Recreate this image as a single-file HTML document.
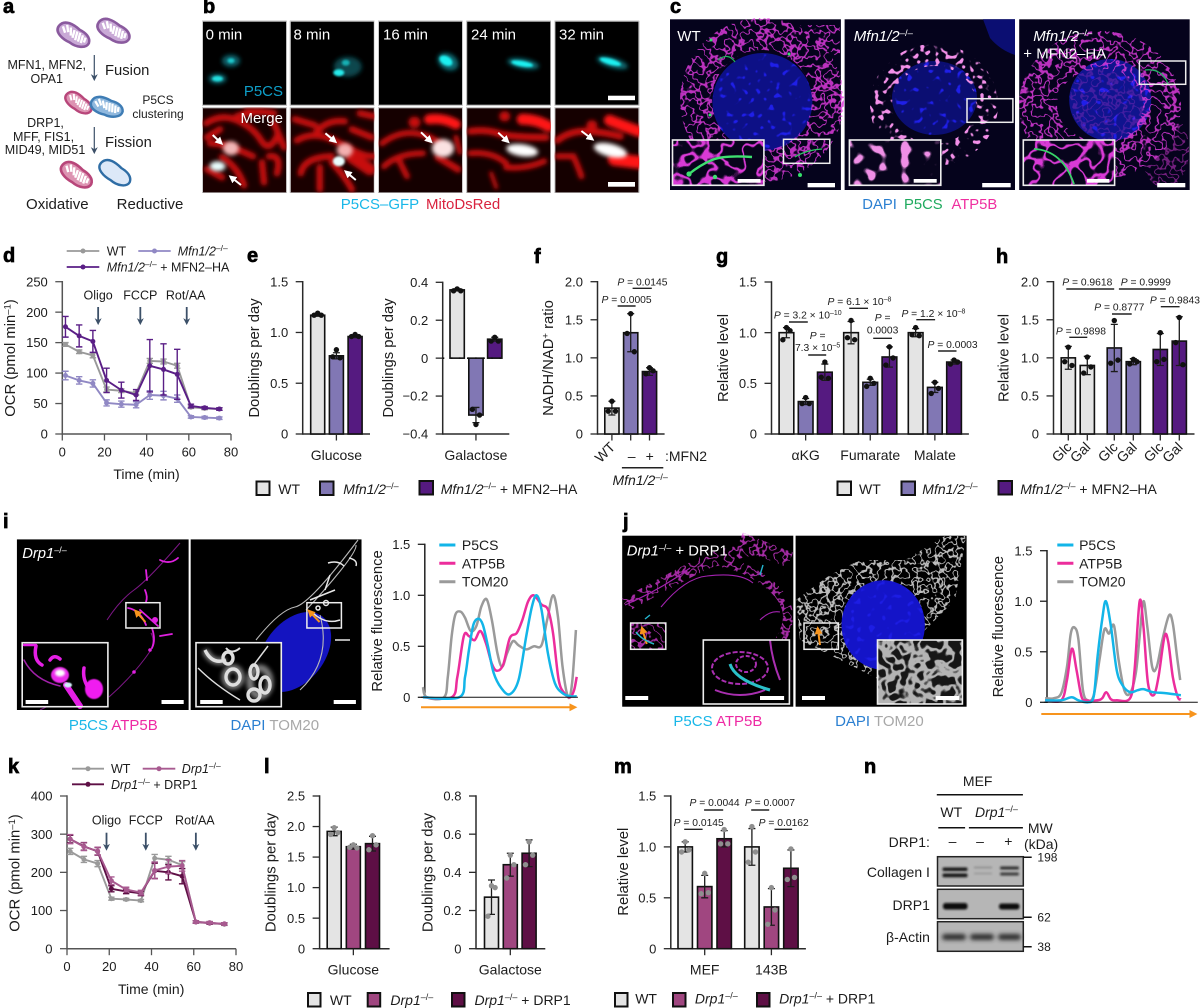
<!DOCTYPE html>
<html lang="en">
<head>
<meta charset="utf-8">
<title>Mitochondrial dynamics and P5CS clustering figure</title>
<style>
html,body{margin:0;padding:0;background:#fff}
svg{display:block}
text{font-family:"Liberation Sans",Arial,sans-serif;fill:#1c1c1c;font-size:12.5px}
.lab{font-size:20px;font-weight:bold;fill:#000;stroke:#000;stroke-width:.7px}
.t15{font-size:15px}.t14{font-size:14px}.t145{font-size:14.8px}.t125{font-size:12.5px}.t12{font-size:12px}
.p{font-size:10.3px}
.it{font-style:italic}
.w{fill:#fff}
.m{text-anchor:middle}
.e{text-anchor:end}
.br{stroke:#222;stroke-width:1.4;fill:none}
</style>
</head>
<body>
<svg id="figure" xmlns="http://www.w3.org/2000/svg" width="1200" height="1008" viewBox="0 0 1200 1008">
<defs>
<filter id="b05" filterUnits="userSpaceOnUse" x="-100" y="-100" width="1400" height="1200"><feGaussianBlur stdDeviation=".5"/></filter>
<filter id="b1" filterUnits="userSpaceOnUse" x="-100" y="-100" width="1400" height="1200"><feGaussianBlur stdDeviation="1"/></filter>
<filter id="b2" filterUnits="userSpaceOnUse" x="-100" y="-100" width="1400" height="1200"><feGaussianBlur stdDeviation="2"/></filter>
<filter id="b4" filterUnits="userSpaceOnUse" x="-100" y="-100" width="1400" height="1200"><feGaussianBlur stdDeviation="4"/></filter>
<filter id="fil-mag" filterUnits="userSpaceOnUse" x="600" y="0" width="600" height="800" color-interpolation-filters="sRGB">
<feTurbulence type="fractalNoise" baseFrequency="0.12" numOctaves="2" seed="7" result="n"/>
<feColorMatrix in="n" type="matrix" values="0 0 0 0 0 0 0 0 0 0 0 0 0 0 0 1 0 0 0 0"/>
<feComponentTransfer result="a"><feFuncA type="table" tableValues="0 0 0 0 0 0 0 0 0 0 0 0 0 0 0 0 0 0 .3 1 1 1 .3 0 0 0 0 0 0 0 0 0 0 0 0 0 0 0 0 0 0"/></feComponentTransfer>
<feFlood flood-color="#dd3bdc"/><feComposite in2="a" operator="in" result="c"/>
<feComposite in="c" in2="SourceAlpha" operator="in"/>
</filter>
<filter id="fil-mag-lg" filterUnits="userSpaceOnUse" x="600" y="0" width="600" height="800" color-interpolation-filters="sRGB">
<feTurbulence type="fractalNoise" baseFrequency="0.055" numOctaves="2" seed="11" result="n"/>
<feColorMatrix in="n" type="matrix" values="0 0 0 0 0 0 0 0 0 0 0 0 0 0 0 1 0 0 0 0"/>
<feComponentTransfer result="a"><feFuncA type="table" tableValues="0 0 0 0 0 0 0 0 0 0 0 0 0 0 0 0 0 0 .3 1 1 1 .3 0 0 0 0 0 0 0 0 0 0 0 0 0 0 0 0 0 0"/></feComponentTransfer>
<feFlood flood-color="#d93ad6"/><feComposite in2="a" operator="in" result="c"/>
<feComposite in="c" in2="SourceAlpha" operator="in"/>
</filter>
<filter id="fil-spots" filterUnits="userSpaceOnUse" x="600" y="0" width="600" height="800" color-interpolation-filters="sRGB">
<feTurbulence type="fractalNoise" baseFrequency="0.2" numOctaves="1" seed="5" result="n"/>
<feColorMatrix in="n" type="matrix" values="0 0 0 0 0 0 0 0 0 0 0 0 0 0 0 1 0 0 0 0"/>
<feComponentTransfer result="a"><feFuncA type="table" tableValues="0 0 0 0 0 0 0 0 0 0 0 0 .3 1 1 1 1 1 1 1 1"/></feComponentTransfer>
<feFlood flood-color="#f28fe8"/><feComposite in2="a" operator="in" result="c"/>
<feComposite in="c" in2="SourceAlpha" operator="in"/>
</filter>
<filter id="fil-spots-lg" filterUnits="userSpaceOnUse" x="600" y="0" width="600" height="800" color-interpolation-filters="sRGB">
<feTurbulence type="fractalNoise" baseFrequency="0.09" numOctaves="1" seed="9" result="n"/>
<feColorMatrix in="n" type="matrix" values="0 0 0 0 0 0 0 0 0 0 0 0 0 0 0 1 0 0 0 0"/>
<feComponentTransfer result="a"><feFuncA type="table" tableValues="0 0 0 0 0 0 0 0 0 0 0 0 .3 1 1 1 1 1 1 1 1"/></feComponentTransfer>
<feFlood flood-color="#ef8fe6"/><feComposite in2="a" operator="in" result="c"/>
<feComposite in="c" in2="SourceAlpha" operator="in"/>
</filter>
<filter id="fil-grey" filterUnits="userSpaceOnUse" x="600" y="500" width="600" height="300" color-interpolation-filters="sRGB">
<feTurbulence type="fractalNoise" baseFrequency="0.14" numOctaves="2" seed="3" result="n"/>
<feColorMatrix in="n" type="matrix" values="0 0 0 0 0 0 0 0 0 0 0 0 0 0 0 1 0 0 0 0"/>
<feComponentTransfer result="a"><feFuncA type="table" tableValues="0 0 0 0 0 0 0 0 0 0 0 0 0 0 0 0 0 0 .4 1 1 1 .4 0 0 0 0 0 0 0 0 0 0 0 0 0 0 0 0 0 0"/></feComponentTransfer>
<feFlood flood-color="#bdbdbd"/><feComposite in2="a" operator="in" result="c"/>
<feComposite in="c" in2="SourceAlpha" operator="in"/>
</filter>
<filter id="fil-grey-lg" filterUnits="userSpaceOnUse" x="600" y="500" width="600" height="300" color-interpolation-filters="sRGB">
<feTurbulence type="fractalNoise" baseFrequency="0.08" numOctaves="2" seed="4" result="n"/>
<feColorMatrix in="n" type="matrix" values="0 0 0 0 0 0 0 0 0 0 0 0 0 0 0 1 0 0 0 0"/>
<feComponentTransfer result="a"><feFuncA type="table" tableValues="0 0 0 0 0 0 0 0 0 0 0 0 0 0 0 0 .2 .6 1 1 1 1 1 .6 .2 0 0 0 0 0 0 0 0 0 0 0 0 0 0 0 0"/></feComponentTransfer>
<feFlood flood-color="#b4b4b4"/><feComposite in2="a" operator="in" result="c"/>
<feComposite in="c" in2="SourceAlpha" operator="in"/>
</filter>
<filter id="nuc" filterUnits="userSpaceOnUse" x="0" y="0" width="1200" height="800" color-interpolation-filters="sRGB">
<feTurbulence type="fractalNoise" baseFrequency="0.16" numOctaves="1" seed="2" result="n"/>
<feColorMatrix in="n" type="matrix" values="0 0 0 0 0 0 0 0 0 0 0 0 0 0 0 1 0 0 0 0"/>
<feComponentTransfer result="a"><feFuncA type="table" tableValues="0 0 0 0 0 0 0 0 0 0 0 0 0 .3 1 1 1 1 1 1 1"/></feComponentTransfer>
<feFlood flood-color="#1f1fe8"/><feComposite in2="a" operator="in" result="c"/>
<feComposite in="c" in2="SourceAlpha" operator="in"/>
</filter>
<marker id="ah-slate" viewBox="0 0 10 10" refX="7" refY="5" markerWidth="7" markerHeight="8" markerUnits="userSpaceOnUse" orient="auto"><path d="M0 0L10 5L0 10L3 5Z" fill="#3c5068"/></marker>
<marker id="ah-white" viewBox="0 0 10 10" refX="7" refY="5" markerWidth="8" markerHeight="8" markerUnits="userSpaceOnUse" orient="auto"><path d="M0 0L10 5L0 10Z" fill="#fff"/></marker>
<marker id="ah-orange" viewBox="0 0 10 10" refX="7" refY="5" markerWidth="8" markerHeight="8" markerUnits="userSpaceOnUse" orient="auto"><path d="M0 0L10 5L0 10Z" fill="#f7941d"/></marker>
<g id="bean"><path d="M-16 -6C-11 -14 -1 -9 5 -5C11 -3 17 1 16 7C14 13 4 13 -3 9C-10 7 -20 1 -16 -6Z"/></g>
<path id="ladder" d="M-12 -6L-9 0M-8 -8L-6 -1M-4 -6L-3 2M0 -4L-1 4M3 -3L2 6M6 -2L5 7M9 0L8 8M12 2L11 7" fill="none" stroke="#fff" stroke-width="2.4"/>
</defs>

<!-- panel labels -->
<g>
<text class="lab" x="3" y="13">a</text>
<text class="lab" x="203" y="13">b</text>
<text class="lab" x="670" y="13">c</text>
<text class="lab" x="3" y="262">d</text>
<text class="lab" x="247" y="262">e</text>
<text class="lab" x="534" y="263">f</text>
<text class="lab" x="716" y="263">g</text>
<text class="lab" x="996" y="263">h</text>
<text class="lab" x="3" y="528">i</text>
<text class="lab" x="623" y="528">j</text>
<text class="lab" x="8" y="773">k</text>
<text class="lab" x="264" y="773">l</text>
<text class="lab" x="614" y="773">m</text>
<text class="lab" x="864" y="773">n</text>
</g>

<!-- panel a -->
<g>
<g transform="translate(74,34) rotate(8)"><use href="#bean" fill="#c9a9d6" stroke="#8a5a9e" stroke-width="2.6"/><use href="#ladder"/></g>
<g transform="translate(114,30) rotate(6)"><use href="#bean" fill="#c9a9d6" stroke="#8a5a9e" stroke-width="2.6"/><use href="#ladder"/></g>
<text class="t125 m" x="46.7" y="69">MFN1, MFN2,</text>
<text class="t125 m" x="46.7" y="83">OPA1</text>
<path d="M94.3 55V79" stroke="#3c5068" stroke-width="1.2" marker-end="url(#ah-slate)"/>
<text class="t145" x="105" y="75">Fusion</text>
<g transform="translate(79,102) rotate(12) scale(.85)"><use href="#bean" fill="#dd93b2" stroke="#b8467a" stroke-width="2.8"/><use href="#ladder"/></g>
<g transform="translate(107,106) rotate(-4) scale(.95)"><use href="#bean" fill="#8fb8de" stroke="#3f7db5" stroke-width="2.6"/><use href="#ladder"/></g>
<text class="t12 m" x="158" y="104">P5CS</text>
<text class="t12 m" x="158" y="118">clustering</text>
<text class="t125 m" x="45.5" y="127">DRP1,</text>
<text class="t125 m" x="43.5" y="141">MFF, FIS1,</text>
<text class="t125 m" x="45" y="154">MID49, MID51</text>
<path d="M94.3 127V152" stroke="#3c5068" stroke-width="1.2" marker-end="url(#ah-slate)"/>
<text class="t145" x="105" y="147">Fission</text>
<g transform="translate(77,174) rotate(12)"><use href="#bean" fill="#dd93b2" stroke="#b8467a" stroke-width="2.6"/><use href="#ladder"/></g>
<g transform="translate(115.5,172) rotate(12)"><use href="#bean" fill="#dce8f8" stroke="#2f6da5" stroke-width="2.4"/></g>
<text class="t15 m" x="57.3" y="209">Oxidative</text>
<text class="t15 m" x="150" y="209">Reductive</text>
</g>

<!-- panel b -->
<g>
<svg x="202" y="20.7" width="84.7" height="85"><rect width="85" height="85" fill="#000" stroke="#ccc" stroke-width="2"/><ellipse cx="29" cy="40" rx="9" ry="6" fill="#0a5f68" filter="url(#b2)"/><ellipse cx="15.5" cy="58" rx="9" ry="5" fill="#0a5f68" filter="url(#b2)"/><ellipse cx="29" cy="40" rx="3.500" ry="2.500" fill="#1cc8cc" filter="url(#b1)"/><ellipse cx="15.5" cy="58" rx="5.500" ry="2.800" fill="#22e0e0" filter="url(#b1)"/></svg>
<svg x="289.8" y="20.7" width="84.7" height="85"><rect width="85" height="85" fill="#000" stroke="#ccc" stroke-width="2"/><ellipse cx="58" cy="46" rx="14" ry="10" fill="#07474e" filter="url(#b2)"/><ellipse cx="56" cy="42" rx="4" ry="3" fill="#18b0b4" filter="url(#b1)"/><ellipse cx="49" cy="52" rx="5.500" ry="3.500" fill="#25eaea" filter="url(#b1)"/></svg>
<svg x="378" y="20.7" width="84.6" height="85"><rect width="85" height="85" fill="#000" stroke="#ccc" stroke-width="2"/><ellipse cx="70" cy="41" rx="11" ry="8" fill="#0a6a72" filter="url(#b2)" transform="rotate(30 70 41)"/><ellipse cx="68" cy="40" rx="7" ry="4.500" fill="#1ff0f0" filter="url(#b1)" transform="rotate(30 68 40)"/></svg>
<svg x="466.2" y="20.7" width="84.6" height="85"><rect width="85" height="85" fill="#000" stroke="#ccc" stroke-width="2"/><ellipse cx="57" cy="43" rx="16" ry="5" fill="#0a6a72" filter="url(#b2)" transform="rotate(10 57 43)"/><ellipse cx="56" cy="43" rx="11" ry="2.800" fill="#1ff0f0" filter="url(#b1)" transform="rotate(10 56 43)"/></svg>
<svg x="554.4" y="20.7" width="84.8" height="85"><rect width="85" height="85" fill="#000" stroke="#ccc" stroke-width="2"/><ellipse cx="58" cy="42" rx="16" ry="5" fill="#0a6a72" filter="url(#b2)" transform="rotate(16 58 42)"/><ellipse cx="56" cy="41" rx="11" ry="3" fill="#1ff0f0" filter="url(#b1)" transform="rotate(16 56 41)"/></svg>

<svg x="202" y="107.3" width="84.7" height="85.4"><rect width="85" height="86" fill="#1a0000" stroke="#ccc" stroke-width="2"/><g fill="none" stroke="#c81010" stroke-width="6.500" stroke-linecap="round" filter="url(#b2)"><path d="M4 16Q19 6 35 13T59 33T75 29"/><path d="M8 36Q23 36 51 49"/><path d="M67 49Q80 47 75 66"/><path d="M35 9Q55 2 72 6"/><path d="M20 50Q36 60 42 78"/><path d="M44 3H60" stroke-width="4"/><path d="M5 62L20 70"/><path d="M60 55L62 75"/><path d="M5 30L18 22"/><path d="M72 16L82 40"/></g><ellipse cx="29" cy="41" rx="8" ry="7" fill="#f0b8b8" filter="url(#b2)"/><ellipse cx="15.5" cy="59" rx="8" ry="5" fill="#eaffff" filter="url(#b2)"/><path d="M10.700 27.700L19.400 36" stroke="#fff" stroke-width="2" marker-end="url(#ah-white)"/><path d="M39 77.700L28.500 69.400" stroke="#fff" stroke-width="2" marker-end="url(#ah-white)"/></svg>
<svg x="289.8" y="107.3" width="84.7" height="85.4"><rect width="85" height="86" fill="#1a0000" stroke="#ccc" stroke-width="2"/><g fill="none" stroke="#c81010" stroke-width="6.500" stroke-linecap="round" filter="url(#b2)"><path d="M7 33Q26 22 50 36T84 49"/><path d="M11 66Q14 50 42 49"/><path d="M70 6L84 9"/><path d="M62 50L80 62" stroke-width="12"/><path d="M26 26Q36 12 55 14"/><path d="M42 55Q56 70 62 82"/><path d="M5 12L25 18"/><path d="M30 60L30 82"/><path d="M62 22L82 30"/></g><ellipse cx="55" cy="43" rx="8" ry="7" fill="#f4b0b0" filter="url(#b2)"/><ellipse cx="49" cy="54" rx="6" ry="5" fill="#eaffff" filter="url(#b1)"/><path d="M35.600 26L45.500 34.400" stroke="#fff" stroke-width="2" marker-end="url(#ah-white)"/><path d="M66 72.700L56 64.400" stroke="#fff" stroke-width="2" marker-end="url(#ah-white)"/></svg>
<svg x="378" y="107.3" width="84.6" height="85.4"><rect width="85" height="86" fill="#150000" stroke="#ccc" stroke-width="2"/><g fill="none" stroke="#c81010" stroke-linecap="round" filter="url(#b2)"><path d="M51 12Q65 10 78 17" stroke="#ff1414" stroke-width="10"/><path d="M36 15H37" stroke-width="11"/><path d="M4 36Q20 24 37 26T65 39" stroke-width="6"/><path d="M6 59Q20 46 45 46" stroke-width="6"/><path d="M21 53L29 69" stroke-width="6"/><path d="M60 50L80 62" stroke-width="7"/><path d="M78 30L82 45" stroke-width="5"/></g><ellipse cx="65" cy="41" rx="11" ry="9" fill="#fbe2e2" filter="url(#b2)"/><path d="M43 25.000L53 34.400" stroke="#fff" stroke-width="2" marker-end="url(#ah-white)"/></svg>
<svg x="466.2" y="107.3" width="84.6" height="85.4"><rect width="85" height="86" fill="#150000" stroke="#ccc" stroke-width="2"/><g fill="none" stroke="#c81010" stroke-linecap="round" filter="url(#b2)"><path d="M56 12Q70 12 82 19" stroke="#ff1414" stroke-width="11"/><path d="M38 9H39" stroke-width="10"/><path d="M4 24Q20 22 32 26T80 30" stroke-width="7"/><path d="M4 46Q26 44 40 56" stroke-width="6"/><path d="M40 60Q60 62 78 54" stroke-width="6"/><path d="M25 66L30 80" stroke-width="4"/></g><ellipse cx="56" cy="43" rx="16" ry="6" fill="#fff" filter="url(#b2)" transform="rotate(8 56 43)"/><path d="M32 25.400L41.800 34.400" stroke="#fff" stroke-width="2" marker-end="url(#ah-white)"/></svg>
<svg x="554.4" y="107.3" width="84.8" height="85.4"><rect width="85" height="86" fill="#150000" stroke="#ccc" stroke-width="2"/><g fill="none" stroke="#c81010" stroke-linecap="round" filter="url(#b2)"><path d="M55 13L84 24" stroke="#ff1414" stroke-width="11"/><path d="M60 52L84 55" stroke="#ff1414" stroke-width="13"/><path d="M37 18H38" stroke-width="10"/><path d="M3 33Q15 24 30 24T66 29" stroke-width="7"/><path d="M3 49H19Q24 60 27 69" stroke-width="6"/></g><ellipse cx="56" cy="43" rx="17" ry="6.500" fill="#fff" filter="url(#b2)" transform="rotate(14 56 43)"/><path d="M27 23.700L38 32" stroke="#fff" stroke-width="2" marker-end="url(#ah-white)"/></svg>

<text class="t15" x="205.600" y="39.500" style="fill:#fff">0 min</text>
<text class="t15" x="293.500" y="39.500" style="fill:#fff">8 min</text>
<text class="t15" x="383" y="39.500" style="fill:#fff">16 min</text>
<text class="t15" x="471" y="39.500" style="fill:#fff">24 min</text>
<text class="t15" x="559" y="39.500" style="fill:#fff">32 min</text>
<text class="t15 e" x="283" y="96" style="fill:#0e9fc9">P5CS</text>
<text class="t15 e" x="283" y="123" style="fill:#fff">Merge</text>
<rect x="608" y="95.700" width="27" height="4.500" fill="#fff"/>
<rect x="608" y="182" width="27" height="4.700" fill="#fff"/>
<text class="t15" x="340.800" y="209" style="fill:#19b7e8">P5CS–GFP</text>
<text class="t15" x="426" y="209" style="fill:#d9233f">MitoDsRed</text>
</g>

<!-- panel c -->
<g>
<rect x="670" y="19.300" width="170.900" height="170.700" fill="#05031c"/>
<rect x="844.600" y="19.300" width="170.400" height="170.700" fill="#05031c"/>
<rect x="1019.200" y="19.300" width="170.500" height="170.700" fill="#05031c"/>
<g>
<ellipse cx="762.400" cy="102" rx="50" ry="49" fill="#0d1086"/>
<ellipse cx="934.500" cy="98" rx="42.500" ry="37" fill="#0b0e72"/>
<ellipse cx="1110.200" cy="100" rx="41" ry="41" fill="#10148e"/>
<path d="M983 19.300H1015V55Q1000 50 990 38Z" fill="#0b0e72"/>
<g filter="url(#nuc)"><ellipse cx="762.400" cy="102" rx="50" ry="49"/><ellipse cx="934.500" cy="98" rx="42.500" ry="37"/><ellipse cx="1110.200" cy="100" rx="41" ry="41"/></g>
</g>
<g filter="url(#fil-mag)" opacity=".85"><ellipse cx="762" cy="100" rx="66" ry="66" fill="none" stroke="#fff" stroke-width="32"/><path d="M800 25H840V60Z"/></g>
<g filter="url(#fil-spots)"><ellipse cx="934" cy="105" rx="53" ry="50" fill="none" stroke="#fff" stroke-width="22"/></g>
<g filter="url(#fil-mag)" opacity=".85"><ellipse cx="1100" cy="105" rx="62" ry="55" fill="none" stroke="#fff" stroke-width="38"/><ellipse cx="1165" cy="150" rx="24" ry="38" opacity=".6"/><ellipse cx="1110" cy="100" rx="40" ry="40" opacity=".3"/></g>
<path d="M718 60Q728 52 735 62" stroke="#1fb35a" stroke-width="1.200" fill="none"/>
<g fill="#35e06a"><circle cx="711" cy="40" r="1.500"/><circle cx="789" cy="54" r="1.500"/><circle cx="710" cy="115" r="1.500"/><circle cx="800" cy="175" r="2"/></g>
<path d="M1145 70Q1162 68 1168 84" stroke="#22b860" stroke-width="1.200" fill="none"/>

<rect x="672.500" y="140" width="91.400" height="45.300" fill="#07041c"/>
<rect x="672.500" y="140" width="91.400" height="45.300" filter="url(#fil-mag-lg)"/>
<path d="M689 174Q700 165 712 160T752 157" stroke="#3ee070" stroke-width="2.400" fill="none"/>
<circle cx="689" cy="174" r="2.600" fill="#3ee070"/><circle cx="715" cy="177" r="2.200" fill="#3ee070"/>
<rect x="672.500" y="140" width="91.400" height="45.300" fill="none" stroke="#eee" stroke-width="1.600"/>
<rect x="849.400" y="140" width="91.400" height="45.300" fill="#07041c"/>
<rect x="849.400" y="140" width="91.400" height="45.300" filter="url(#fil-spots-lg)"/>
<rect x="849.400" y="140" width="91.400" height="45.300" fill="none" stroke="#eee" stroke-width="1.600"/>
<rect x="1023.300" y="140" width="91.300" height="45.300" fill="#07041c"/>
<rect x="1023.300" y="140" width="91.300" height="45.300" filter="url(#fil-mag-lg)"/>
<path d="M1034 149Q1062 150 1074 184" stroke="#37d468" stroke-width="1.800" fill="none"/>
<rect x="1023.300" y="140" width="91.300" height="45.300" fill="none" stroke="#eee" stroke-width="1.600"/>

<g fill="none" stroke="#eee" stroke-width="1.500"><rect x="783.500" y="139.300" width="46.300" height="24"/><rect x="967" y="98.700" width="45.900" height="23.600"/><rect x="1139.400" y="61" width="46.300" height="23.300"/></g>
<path d="M795 157Q806 150 822 149" stroke="#2fc864" stroke-width="1.300" fill="none"/>
<g fill="#fff"><rect x="807.600" y="183" width="27.400" height="4.300"/><rect x="737.600" y="179" width="23" height="3.700"/><rect x="982.200" y="183" width="28.500" height="4.300"/><rect x="913.700" y="179" width="23" height="3.700"/><rect x="1157.200" y="183" width="28.100" height="4.300"/><rect x="1086.900" y="179" width="22.500" height="3.700"/></g>
<text class="t15" x="677.300" y="41" style="fill:#fff">WT</text>
<text class="t15" x="853.800" y="41" style="fill:#fff"><tspan class="it" style="fill:#fff">Mfn1/2</tspan><tspan dy="-5" font-size="9.500" style="fill:#fff">–/–</tspan></text>
<text class="t15" x="1033.200" y="41" style="fill:#fff"><tspan class="it" style="fill:#fff">Mfn1/2</tspan><tspan dy="-5" font-size="9.500" style="fill:#fff">–/–</tspan></text>
<text class="t15" x="1023.300" y="58.700" style="fill:#fff">+ MFN2–HA</text>
<text class="t145" x="862.300" y="209" style="fill:#2a7fd1">DAPI</text>
<text class="t145" x="904" y="209" style="fill:#1faa5e">P5CS</text>
<text class="t145" x="951.500" y="209" style="fill:#ef2fa0">ATP5B</text>
</g>

<!-- charts d-h static annotation -->
<g>
<path d="M66.700 251H99.300" stroke="#999" stroke-width="1.800"/><circle cx="83" cy="251" r="2.500" fill="#999"/>
<text class="t125" x="106.700" y="255.500">WT</text>
<path d="M138.300 251H170.700" stroke="#9088c4" stroke-width="1.800"/><circle cx="154.500" cy="251" r="2.500" fill="#9088c4"/>
<text class="t125" x="177.700" y="255.500"><tspan class="it">Mfn1/2</tspan><tspan dy="-4.500" font-size="8.500">–/–</tspan></text>
<path d="M66.700 267H99.300" stroke="#5a1e86" stroke-width="1.800"/><circle cx="83" cy="267" r="2.500" fill="#5a1e86"/>
<text class="t125" x="106.700" y="271.500"><tspan class="it">Mfn1/2</tspan><tspan dy="-4.500" font-size="8.500">–/–</tspan><tspan dy="4.500"> + MFN2–HA</tspan></text>
</g>
<text class="t145" transform="translate(15,358) rotate(-90)" text-anchor="middle">OCR (pmol min<tspan dy="-4.500" font-size="9.500">–1</tspan><tspan dy="4.500">)</tspan></text>
<text class="t14 m" x="146.500" y="479">Time (min)</text>

<text class="t145 m" transform="translate(259,358) rotate(-90)">Doublings per day</text>
<text class="t145 m" transform="translate(393,358) rotate(-90)">Doublings per day</text>

<g>
<rect x="256.500" y="481.500" width="13" height="13.500" fill="#e4e4e4" stroke="#111" stroke-width="2"/>
<text class="t14" x="278.300" y="494">WT</text>
<rect x="320" y="481.500" width="13.500" height="13.500" fill="#8177b4" stroke="#111" stroke-width="2"/>
<text class="t14" x="343.300" y="494"><tspan class="it">Mfn1/2</tspan><tspan dy="-5" font-size="9">–/–</tspan></text>
<rect x="419.500" y="481" width="13.500" height="13.500" fill="#551a80" stroke="#111" stroke-width="2"/>
<text class="t14" x="440.700" y="494"><tspan class="it">Mfn1/2</tspan><tspan dy="-5" font-size="9">–/–</tspan><tspan dy="5"> + MFN2–HA</tspan></text>
</g>

<text class="t145 m" transform="translate(553,358) rotate(-90)">NADH/NAD<tspan dy="-4.500" font-size="9.500">+</tspan><tspan dy="4.500"> ratio</tspan></text>
<g>
<text class="t14 e" transform="translate(616,448) rotate(-45)">WT</text>
<text class="t14 m" x="631.700" y="461">–</text>
<text class="t14 m" x="649.700" y="461">+</text>
<text class="t14" x="665" y="461">:MFN2</text>
<path d="M621.900 467.700H663.300" stroke="#222" stroke-width="1.500"/>
<text class="t14" x="612.500" y="485"><tspan class="it">Mfn1/2</tspan><tspan dy="-5" font-size="9">–/–</tspan></text>
<text class="p m" x="642.400" y="285.500"><tspan class="it">P</tspan> = 0.0145</text>
<path class="br" d="M632.600 288.300H651.800"/>
<text class="p m" x="626.600" y="303"><tspan class="it">P</tspan> = 0.0005</text>
<path class="br" d="M617.600 306H635.600"/>
</g>

<text class="t145 m" transform="translate(728,358) rotate(-90)">Relative level</text>
<g>
<text class="p m" x="807.800" y="318.500"><tspan class="it">P</tspan> = 3.2 × 10<tspan dy="-3.500" font-size="7">–10</tspan></text>
<path class="br" d="M789 322H807.800"/>
<text class="p m" x="817.600" y="339"><tspan class="it">P</tspan> =</text>
<text class="p m" x="817.600" y="351">7.3 × 10<tspan dy="-3.500" font-size="7">–5</tspan></text>
<path class="br" d="M808.200 355H826.200"/>
<text class="p m" x="859.500" y="305"><tspan class="it">P</tspan> = 6.1 × 10<tspan dy="-3.500" font-size="7">–8</tspan></text>
<path class="br" d="M849.200 308.300H868"/>
<text class="p m" x="882.600" y="321"><tspan class="it">P</tspan> =</text>
<text class="p m" x="882.600" y="333.500">0.0003</text>
<path class="br" d="M873.200 338.300H892"/>
<text class="p m" x="933.400" y="316.800"><tspan class="it">P</tspan> = 1.2 × 10<tspan dy="-3.500" font-size="7">–8</tspan></text>
<path class="br" d="M916.300 319.700H935.100"/>
<text class="p m" x="952.600" y="347.800"><tspan class="it">P</tspan> = 0.0003</text>
<path class="br" d="M938.100 351H956.500"/>
</g>

<text class="t145 m" transform="translate(1008.500,358) rotate(-90)">Relative level</text>
<g>
<text class="p m" x="1087.300" y="285.500"><tspan class="it">P</tspan> = 0.9618</text>
<path class="br" d="M1066.300 289H1114.200"/>
<text class="p m" x="1145.800" y="285.500"><tspan class="it">P</tspan> = 0.9999</text>
<path class="br" d="M1118.900 289H1165.900"/>
<text class="p m" x="1119.300" y="310.500"><tspan class="it">P</tspan> = 0.8777</text>
<path class="br" d="M1112 314H1131.700"/>
<text class="p m" x="1174.900" y="303.500"><tspan class="it">P</tspan> = 0.9843</text>
<path class="br" d="M1160.800 306.700H1179.600"/>
<text class="p m" x="1080.900" y="334.500"><tspan class="it">P</tspan> = 0.9898</text>
<path class="br" d="M1069.300 337.300H1087.300"/>
<text class="t14 e" transform="translate(1072.500,448) rotate(-45)">Glc</text>
<text class="t14 e" transform="translate(1091.300,448) rotate(-45)">Gal</text>
<text class="t14 e" transform="translate(1118.600,448) rotate(-45)">Glc</text>
<text class="t14 e" transform="translate(1137.800,448) rotate(-45)">Gal</text>
<text class="t14 e" transform="translate(1164.300,448) rotate(-45)">Glc</text>
<text class="t14 e" transform="translate(1183.600,448) rotate(-45)">Gal</text>
</g>
<g>
<rect x="837.500" y="481.500" width="13.500" height="13.500" fill="#e4e4e4" stroke="#111" stroke-width="2"/>
<text class="t14" x="859" y="494">WT</text>
<rect x="901.500" y="481.500" width="13.500" height="13.500" fill="#8177b4" stroke="#111" stroke-width="2"/>
<text class="t14" x="922.300" y="494"><tspan class="it">Mfn1/2</tspan><tspan dy="-5" font-size="9">–/–</tspan></text>
<rect x="998.500" y="481" width="13.500" height="13.500" fill="#551a80" stroke="#111" stroke-width="2"/>
<text class="t14" x="1020.200" y="494"><tspan class="it">Mfn1/2</tspan><tspan dy="-5" font-size="9">–/–</tspan><tspan dy="5"> + MFN2–HA</tspan></text>
</g>

<!-- panel i images -->
<g>
<svg x="16.800" y="539.300" width="171.900" height="170.700">
<g transform="translate(-16.800,-539.300)"><rect x="16.800" y="539.300" width="172" height="171" fill="#000"/>
<g fill="none" stroke="#8a1a94" stroke-width="1" opacity=".9"><path d="M109 697Q134 675 151 650Q155 640 151 633"/><path d="M107 620Q120 600 134 590T180 543"/><path d="M40 710Q80 690 107 697"/></g>
<g fill="none" stroke="#e020e0" stroke-width="1.800" stroke-linecap="round"><path d="M128 608Q140 610 146 625"/><path d="M145 590Q148 597 146 602"/><path d="M160 560Q170 565 178 558"/><path d="M146 570L147 580"/><path d="M152 628Q156 640 152 648"/><path d="M140 610L158 626"/><path d="M160 636L172 634"/></g>
<circle cx="134" cy="672" r="1.800" fill="#e020e0"/><circle cx="150" cy="650" r="1.800" fill="#e020e0"/><circle cx="155" cy="620" r="3" fill="#e020e0"/></g></svg>
<rect x="22.200" y="642.700" width="85.700" height="64" fill="#000"/>
<g fill="none" stroke="#e51fe5" stroke-width="3.500" stroke-linecap="round"><path d="M36 646Q33 660 42 665" /><path d="M50 660Q54 654 60 659"/><path d="M24 660Q34 680 60 686" stroke-width="1.500" stroke="#a020a8"/><path d="M84 668Q82 680 90 690"/><path d="M66 685L80 706" stroke-width="6"/><path d="M24 645H36" stroke-width="2.500"/></g>
<ellipse cx="60" cy="675" rx="9" ry="8" fill="#ea2aea" filter="url(#b05)"/><ellipse cx="94" cy="689" rx="9" ry="10" fill="#f01ff0" filter="url(#b05)"/><ellipse cx="60" cy="673" rx="5" ry="3.500" fill="#fff" filter="url(#b1)"/><ellipse cx="68" cy="685" rx="4" ry="2.500" fill="#cdeef8" filter="url(#b05)"/>
<rect x="22.200" y="642.700" width="85.700" height="64" fill="none" stroke="#eee" stroke-width="1.600"/>
<rect x="125.900" y="602.700" width="34.100" height="25.300" fill="none" stroke="#eee" stroke-width="1.500"/>
<path d="M145.400 622L135.500 611" stroke="#f7941d" stroke-width="2" marker-end="url(#ah-orange)"/>
<rect x="161.500" y="700" width="22.200" height="4" fill="#fff"/><rect x="25.600" y="700" width="22.600" height="4" fill="#fff"/>

<svg x="190.600" y="539.300" width="171" height="170.700">
<g transform="translate(-190.600,-539.300)"><rect x="190.600" y="539.300" width="171" height="171" fill="#000"/>
<ellipse cx="294.700" cy="652" rx="45" ry="30" fill="#1414c0" transform="rotate(-52 294.700 652)"/>
<g fill="none" stroke="#b8b8b8" stroke-width="1.100"><path d="M256 640Q280 610 295 607T358 540"/><path d="M306 610Q325 590 341 570T356 545"/><path d="M320 615Q332 660 300 690"/></g>
<g fill="none" stroke="#e8e8e8" stroke-width="1.500"><path d="M328 563Q338 560 344 566"/><path d="M349 558Q358 560 356 566"/><path d="M310 600L335 590"/><path d="M312 612Q325 625 340 620"/><path d="M335 640H350"/><circle cx="326" cy="603" r="2.500"/><circle cx="318" cy="608" r="2"/><path d="M330 575L325 590"/></g></g></svg>
<rect x="196" y="642.700" width="85.300" height="64" fill="#000"/>
<g fill="none" stroke="#7c7c7c" stroke-width="7" filter="url(#b2)"><ellipse cx="233" cy="677" rx="8" ry="9"/><ellipse cx="260" cy="682" rx="10" ry="14"/><path d="M205 650Q212 665 226 660"/></g>
<g fill="none" stroke="#dedede" stroke-width="3.400"><path d="M205 650Q212 665 226 660"/><ellipse cx="228" cy="658" rx="5" ry="6"/><ellipse cx="233" cy="677" rx="7" ry="8"/><ellipse cx="254" cy="672" rx="4" ry="7"/><ellipse cx="265" cy="685" rx="5" ry="8"/><ellipse cx="254" cy="695" rx="6" ry="6"/><path d="M198 668Q215 685 240 700" stroke-width="1.400"/><path d="M240 648Q232 655 226 648" stroke-width="2"/><path d="M268 646L250 670" stroke-width="1.500"/></g>
<rect x="196" y="642.700" width="85.300" height="64" fill="none" stroke="#eee" stroke-width="1.600"/>
<rect x="306.900" y="602.700" width="34.500" height="25.300" fill="none" stroke="#eee" stroke-width="1.500"/>
<path d="M319.600 622L309 611" stroke="#f7941d" stroke-width="2" marker-end="url(#ah-orange)"/>
<rect x="333.700" y="700" width="22.200" height="4" fill="#fff"/><rect x="200.200" y="700" width="22.500" height="4" fill="#fff"/>
<text class="t145" x="22.200" y="558" style="fill:#fff"><tspan class="it" style="fill:#fff">Drp1</tspan><tspan dy="-5" font-size="9" style="fill:#fff">–/–</tspan></text>
<text class="t15 m" x="113.300" y="730"><tspan style="fill:#19b7e8">P5CS</tspan> <tspan style="fill:#ee2aa4">ATP5B</tspan></text>
<text class="t15 m" x="274.800" y="730"><tspan style="fill:#2a7fd1">DAPI</tspan> <tspan style="fill:#a8a8a8">TOM20</tspan></text>
</g>
<text class="t145 m" transform="translate(382,621) rotate(-90)">Relative fluorescence</text>
<path d="M421 707.300H575" stroke="#f7941d" stroke-width="2" marker-end="url(#ah-orange)"/>
<g>
<path d="M439.300 545H455.400" stroke="#12b5e8" stroke-width="3"/><text class="t14" x="461.900" y="550">P5CS</text>
<path d="M439.300 563.300H455.400" stroke="#ec2d9c" stroke-width="3"/><text class="t14" x="461.900" y="568.300">ATP5B</text>
<path d="M439.300 581.700H455.400" stroke="#9a9a9a" stroke-width="3"/><text class="t14" x="461.900" y="586.700">TOM20</text>
</g>

<!-- panel j images -->
<g>
<rect x="622.200" y="535.700" width="171.100" height="171" fill="#000"/>
<g filter="url(#fil-mag)" opacity=".75"><path d="M625 605Q680 575 700 565T755 548" fill="none" stroke="#fff" stroke-width="14"/><path d="M700 560Q740 560 770 585T780 640" fill="none" stroke="#fff" stroke-width="10"/><path d="M740 540L790 560" fill="none" stroke="#fff" stroke-width="16"/><rect x="630" y="623" width="36" height="26"/></g>
<g fill="none" stroke="#a322b0" stroke-width="1.100"><path d="M661 607Q685 578 707 576Q740 572 753 583" /><path d="M625 605Q660 590 690 568"/><path d="M760 620Q770 610 780 612"/></g>
<path d="M760 575L763 565M645 619L650 615" stroke="#25b5cf" stroke-width="1.400" fill="none"/>
<rect x="703.300" y="640" width="86.100" height="64" fill="#000"/>
<g fill="none" stroke="#a92fb0" stroke-width="2"><ellipse cx="740" cy="668" rx="28" ry="16" stroke-dasharray="5 2"/><ellipse cx="746" cy="664" rx="10" ry="8" stroke-dasharray="4 2"/><path d="M770 640Q772 660 780 680"/><path d="M715 690Q740 700 765 690"/></g>
<path d="M730 664Q735 680 770 690" stroke="#2ac0c8" stroke-width="3" fill="none"/>
<rect x="703.300" y="640" width="86.100" height="64" fill="none" stroke="#eee" stroke-width="1.600"/>
<rect x="630.600" y="623" width="35.200" height="26.300" fill="none" stroke="#eee" stroke-width="1.500"/>
<path d="M646.700 644L642 628" stroke="#f7941d" stroke-width="2" marker-end="url(#ah-orange)"/>
<path d="M636 632Q642 640 654 644" stroke="#2ab8c8" stroke-width="1.500" fill="none"/>
<rect x="625.300" y="696" width="22.900" height="4" fill="#fff"/><rect x="760" y="696" width="24.100" height="4" fill="#fff"/>

<rect x="795.600" y="535.700" width="171" height="171" fill="#000"/>
<g filter="url(#fil-grey)"><path d="M796 600L830 575L860 560L905 560L945 536L966 536L955 600L925 630L880 680L840 660L800 640Z"/></g>
<ellipse cx="883.200" cy="625" rx="41.700" ry="44.700" fill="#1414c8"/>
<ellipse cx="883.200" cy="625" rx="41.700" ry="44.700" filter="url(#nuc)" opacity=".9"/>
<rect x="877.500" y="640" width="84.900" height="64" fill="#161616"/>
<rect x="877.500" y="640" width="84.900" height="64" filter="url(#fil-grey-lg)"/>
<rect x="877.500" y="640" width="84.900" height="64" fill="none" stroke="#eee" stroke-width="1.600"/>
<rect x="804" y="623" width="34.400" height="26.300" fill="none" stroke="#eee" stroke-width="1.500"/>
<path d="M820 645L817.800 628.500" stroke="#f7941d" stroke-width="2" marker-end="url(#ah-orange)"/>
<rect x="802" y="696" width="23" height="4" fill="#fff"/><rect x="935.600" y="696" width="23.400" height="4" fill="#fff"/>
<text class="t145" x="626.800" y="555.500" style="fill:#fff"><tspan class="it" style="fill:#fff">Drp1</tspan><tspan dy="-5" font-size="9" style="fill:#fff">–/–</tspan><tspan dy="5" style="fill:#fff"> + DRP1</tspan></text>
<text class="t15 m" x="717.900" y="726"><tspan style="fill:#19b7e8">P5CS</tspan> <tspan style="fill:#ee2aa4">ATP5B</tspan></text>
<text class="t15 m" x="879.400" y="726"><tspan style="fill:#2a7fd1">DAPI</tspan> <tspan style="fill:#a8a8a8">TOM20</tspan></text>
</g>
<text class="t145 m" transform="translate(1003,626.700) rotate(-90)">Relative fluorescence</text>
<path d="M1041.300 714H1195" stroke="#f7941d" stroke-width="2" marker-end="url(#ah-orange)"/>
<g>
<path d="M1057.300 545H1073.400" stroke="#12b5e8" stroke-width="3"/><text class="t14" x="1079.100" y="550">P5CS</text>
<path d="M1057.300 563.300H1073.400" stroke="#ec2d9c" stroke-width="3"/><text class="t14" x="1079.100" y="568.300">ATP5B</text>
<path d="M1057.300 581.700H1073.400" stroke="#9a9a9a" stroke-width="3"/><text class="t14" x="1079.100" y="586.700">TOM20</text>
</g>

<!-- k legend and titles -->
<g>
<path d="M72 768.700H104" stroke="#9a9a9a" stroke-width="1.800"/><circle cx="88" cy="768.700" r="2.500" fill="#9a9a9a"/>
<text class="t125" x="111" y="773.200">WT</text>
<path d="M142.700 768.700H175.300" stroke="#a85a90" stroke-width="1.800"/><circle cx="159" cy="768.700" r="2.500" fill="#a85a90"/>
<text class="t125" x="181.800" y="773.200"><tspan class="it">Drp1</tspan><tspan dy="-4.500" font-size="8.500">–/–</tspan></text>
<path d="M72 784.300H104" stroke="#5e0f45" stroke-width="1.800"/><circle cx="88" cy="784.300" r="2.500" fill="#5e0f45"/>
<text class="t125" x="111" y="788.800"><tspan class="it">Drp1</tspan><tspan dy="-4.500" font-size="8.500">–/–</tspan><tspan dy="4.500"> + DRP1</tspan></text>
</g>
<text class="t145 m" transform="translate(19.500,873) rotate(-90)">OCR (pmol min<tspan dy="-4.500" font-size="9.500">–1</tspan><tspan dy="4.500">)</tspan></text>
<text class="t14 m" x="151.200" y="994">Time (min)</text>

<text class="t145 m" transform="translate(275.500,872.500) rotate(-90)">Doublings per day</text>
<text class="t145 m" transform="translate(432.500,872.500) rotate(-90)">Doublings per day</text>
<g>
<rect x="308" y="993" width="12.500" height="13.500" fill="#e4e4e4" stroke="#111" stroke-width="2"/>
<text class="t14" x="329.900" y="1005">WT</text>
<rect x="367.700" y="993" width="12.500" height="13.500" fill="#a04680" stroke="#111" stroke-width="2"/>
<text class="t14" x="390.400" y="1005"><tspan class="it">Drp1</tspan><tspan dy="-5" font-size="9">–/–</tspan></text>
<rect x="452" y="993" width="12.500" height="13.500" fill="#5e0f45" stroke="#111" stroke-width="2"/>
<text class="t14" x="474.500" y="1005"><tspan class="it">Drp1</tspan><tspan dy="-5" font-size="9">–/–</tspan><tspan dy="5"> + DRP1</tspan></text>
</g>

<text class="t145 m" transform="translate(628,871.700) rotate(-90)">Relative level</text>
<g>
<text class="p m" x="714.600" y="806"><tspan class="it">P</tspan> = 0.0044</text>
<path class="br" d="M704.100 810H723.200"/>
<text class="p m" x="769.900" y="806"><tspan class="it">P</tspan> = 0.0007</text>
<path class="br" d="M751.200 810H769.200"/>
<text class="p m" x="698.700" y="826"><tspan class="it">P</tspan> = 0.0145</text>
<path class="br" d="M684.200 829.300H702.600"/>
<text class="p m" x="783.700" y="826"><tspan class="it">P</tspan> = 0.0162</text>
<path class="br" d="M774.500 829.300H792.100"/>
</g>
<g>
<rect x="615" y="993" width="12.500" height="13.500" fill="#e4e4e4" stroke="#111" stroke-width="2"/>
<text class="t14" x="635.200" y="1003.500">WT</text>
<rect x="673" y="993" width="12.500" height="13.500" fill="#a04680" stroke="#111" stroke-width="2"/>
<text class="t14" x="694.900" y="1003.500"><tspan class="it">Drp1</tspan><tspan dy="-5" font-size="9">–/–</tspan></text>
<rect x="757" y="993" width="12.500" height="13.500" fill="#5e0f45" stroke="#111" stroke-width="2"/>
<text class="t14" x="779.100" y="1003.500"><tspan class="it">Drp1</tspan><tspan dy="-5" font-size="9">–/–</tspan><tspan dy="5"> + DRP1</tspan></text>
</g>

<!-- panel n -->
<g>
<text class="t14 m" x="977.700" y="786">MEF</text>
<path d="M936.800 794.700H1022.900" stroke="#111" stroke-width="1.500"/>
<text class="t14 m" x="951.300" y="817">WT</text>
<text class="t14" x="975" y="817"><tspan class="it">Drp1</tspan><tspan dy="-5" font-size="9">–/–</tspan></text>
<path d="M938.300 827.700H965.100M968.900 827.700H1022.900" stroke="#111" stroke-width="1.500"/>
<text class="t14" x="1027.900" y="833">MW</text>
<text class="t14" x="1024" y="849">(kDa)</text>
<text class="t14 e" x="929.900" y="847">DRP1:</text>
<text class="t14 m" x="952.500" y="846">–</text>
<text class="t14 m" x="980" y="846">–</text>
<text class="t14 m" x="1008.300" y="846">+</text>
<rect x="937.500" y="856.700" width="85.800" height="29.300" fill="#b6b6b6" stroke="#222" stroke-width="1.500"/>
<g fill="#151515" filter="url(#b1)"><rect x="942.500" y="867.500" width="25" height="3.500" rx="1.500"/><rect x="942.500" y="873.500" width="25" height="3.800" rx="1.500"/><rect x="1000" y="866.500" width="19" height="3" rx="1.500" opacity=".85"/><rect x="1000" y="872.500" width="19" height="3" rx="1.500" opacity=".75"/><rect x="974" y="866.500" width="18" height="2" opacity=".2"/><rect x="974" y="872.500" width="18" height="2" opacity=".14"/></g>
<rect x="937.500" y="889.300" width="85.800" height="29.400" fill="#b6b6b6" stroke="#222" stroke-width="1.500"/>
<g fill="#101010" filter="url(#b1)"><rect x="943" y="903" width="24.500" height="6.500" rx="2.500"/><rect x="999" y="903.500" width="20.500" height="6" rx="2.500"/></g>
<rect x="937.500" y="921.700" width="85.800" height="29.600" fill="#b6b6b6" stroke="#222" stroke-width="1.500"/>
<g fill="#2a2a2a" filter="url(#b2)"><rect x="942" y="934" width="24" height="6" rx="3"/><rect x="970" y="934" width="24" height="6" rx="3"/><rect x="998" y="934" width="23" height="6" rx="3"/></g>
<text class="t14 e" x="929.900" y="877">Collagen I</text>
<text class="t14 e" x="929.900" y="910">DRP1</text>
<text class="t14 e" x="929.900" y="942">β-Actin</text>
<path d="M1023.300 857.300H1031.700M1023.300 917.300H1031.700M1023.300 946.700H1031.700" stroke="#111" stroke-width="1.500"/>
<text class="t12" x="1037.400" y="861.500">198</text>
<text class="t12" x="1037.400" y="921.500">62</text>
<text class="t12" x="1037.400" y="951">38</text>
</g>
</svg>

<script>
/* ---------- Panel d: OCR time course ---------- */
const dTimes = [1.5, 8, 14.5, 21, 28, 35, 41.5, 48, 54.5, 61, 67.5, 74.5];
const dWT = [147, 135, 129, 73, 71, 67, 120, 119, 112, 44, 42, 41];
const dWTErr = [3, 3, 4, 4, 3, 3, 4, 4, 4, 2, 2, 2];
const dMfn = [96, 88, 83, 51, 49, 48, 64, 63, 58, 28, 27, 26];
const dMfnErr = [7, 6, 6, 5, 5, 5, 7, 7, 6, 2, 2, 2];
const dRescue = [176, 161, 152, 88, 72, 64, 112, 106, 98, 46, 43, 41];
const dRescueErr = [17, 18, 18, 20, 13, 9, 43, 42, 41, 3, 2, 2];
const dYTicks = [0, 50, 100, 150, 200, 250];
const dXTicks = [0, 20, 40, 60, 80];
const injectionLabels = ['Oligo', 'FCCP', 'Rot/AA'];
const dInjectionTimes = [17, 37, 59];

/* ---------- Panel e ---------- */
const eGlucose = [1.17, 0.77, 0.96];
const eGlucoseErr = [0.01, 0.03, 0.01];
const eGlucoseDots = [[1.19, 1.17, 1.17], [0.83, 0.76, 0.75], [0.98, 0.96, 0.96]];
const eGalactose = [0.36, -0.3, 0.1];
const eGalactoseErr = [0.005, 0.04, 0.01];
const eGalactoseDots = [[0.365, 0.355, 0.355], [-0.35, -0.27, -0.3], [0.11, 0.09, 0.09]];

/* ---------- Panel f ---------- */
const fLevels = [0.34, 1.33, 0.82];
const fErr = [0.09, 0.25, 0.05];
const fDots = [[0.43, 0.3, 0.3], [1.58, 1.32, 1.08], [0.87, 0.79, 0.83]];

/* ---------- Panel g ---------- */
const gLevels = [1, 0.32, 0.61, 1, 0.51, 0.76, 1, 0.46, 0.71];
const gErr = [0.05, 0.03, 0.08, 0.11, 0.03, 0.1, 0.04, 0.05, 0.02];
const gDots = [[1.05, 0.93, 1.02], [0.36, 0.3, 0.3], [0.71, 0.56, 0.55], [1.12, 0.95, 0.93], [0.55, 0.47, 0.5], [0.86, 0.68, 0.75], [1.05, 0.98, 0.97], [0.51, 0.4, 0.45], [0.73, 0.69, 0.71]];
const gCategories = ['αKG', 'Fumarate', 'Malate'];

/* ---------- Panel h ---------- */
const hLevels = [1, 0.9, 1.13, 0.95, 1.11, 1.22];
const hErr = [0.15, 0.12, 0.31, 0.04, 0.21, 0.32];
const hDots = [[1.14, 0.95, 0.9], [1.01, 0.8, 0.88], [1.49, 0.93, 0.97], [0.98, 0.92, 0.95], [1.33, 0.95, 0.98], [1.53, 1.2, 0.91]];

/* ---------- Panel i: line profile ---------- */
const iDistP5CS = [0, 23.6, 27.4, 29.9, 32.8, 36.1, 39, 42.3, 46, 51, 56.5, 62.2, 67.2, 70.9, 73.9, 77.1, 81.3, 85.8, 90.8, 95.8, 100];
const iP5CS = [0, 0, 0.2, 0.46, 0.71, 0.77, 0.71, 0.5, 0.24, 0.09, 0.03, 0.17, 0.6, 0.89, 1, 0.86, 0.43, 0.14, 0.04, 0.01, 0.01];
const iDistATP5B = [0, 18.7, 22.4, 26.6, 29.9, 33.6, 37.3, 41, 44.8, 48, 52.2, 56.5, 61, 64.7, 68.4, 72.1, 77.1, 81.3, 84.6, 88.3, 92, 95.8, 98.3, 100];
const iATP5B = [0, 0, 0.2, 0.6, 0.6, 0.56, 0.65, 0.53, 0.33, 0.26, 0.32, 0.58, 0.63, 0.76, 0.94, 1, 0.91, 0.86, 0.63, 0.17, 0.04, 0, 0.07, 0.2];
const iDistTOM20 = [0, 2.5, 13.7, 16.2, 18.7, 21.1, 24.4, 27.4, 31.1, 34.8, 38, 41.5, 44.8, 48.5, 51.5, 54.7, 58.5, 62.2, 67.2, 72.1, 77.1, 80.8, 84.6, 87.8, 90.8, 94.5, 97, 99.5];
const iTOM20 = [0.1, 0, 0, 0.2, 0.6, 0.81, 0.84, 0.78, 0.65, 0.7, 0.89, 0.96, 0.76, 0.43, 0.3, 0.43, 0.55, 0.51, 0.47, 0.5, 0.51, 0.76, 1, 0.79, 0.3, 0, 0.14, 0.66];

/* ---------- Panel j: line profile ---------- */
const jDistP5CS = [0, 11.8, 19.4, 24.4, 31.4, 35.6, 38.4, 41.8, 44.5, 48.2, 52.4, 56.6, 62.2, 67.8, 72, 79, 88.8, 99.4];
const jP5CS = [0.02, 0.02, 0.05, 0.02, 0, 0.06, 0.45, 0.82, 1, 0.75, 0.32, 0.17, 0.1, 0.12, 0.13, 0.1, 0.09, 0.07];
const jDistATP5B = [0, 11.8, 16, 19.6, 23, 26.6, 30, 38.4, 41.8, 44.8, 48.2, 52.4, 62.2, 65.5, 69.2, 72, 75.3, 79.5, 83, 87.4, 90.1, 93.5, 97.2, 99.4];
const jATP5B = [0.02, 0.02, 0.22, 0.53, 0.32, 0.06, 0.02, 0.02, 0.04, 0.1, 0.03, 0.02, 0.04, 0.32, 1, 0.75, 0.19, 0.07, 0.25, 0.65, 0.6, 0.25, 0.05, 0.03];
const jDistTOM20 = [0, 6.2, 11.8, 16, 18.8, 21.6, 24.4, 27.7, 31.4, 35.6, 39.8, 43.4, 46.8, 50.4, 53.8, 58, 62.2, 66.4, 69.2, 72, 74.8, 78.4, 81.7, 85.9, 90.7, 93.5, 96.6, 98.9];
const jTOM20 = [0.04, 0.04, 0.09, 0.35, 0.68, 0.74, 0.62, 0.12, 0.02, 0.07, 0.42, 0.72, 0.68, 0.76, 0.42, 0.12, 0.09, 0.29, 0.65, 1, 0.75, 0.35, 0.35, 0.62, 0.86, 0.78, 0.45, 0.22];
const profileYTicks = [0, 0.5, 1, 1.5];
const profileYLabels = ['0', '0.5', '1.0', '1.5'];

/* ---------- Panel k: OCR time course ---------- */
const kTimes = [1.5, 8, 14.5, 21, 28, 35, 41.5, 48, 54.5, 61, 67.5, 74.5];
const kWT = [255, 234, 223, 131, 129, 126, 237, 233, 219, 70, 68, 64];
const kWTErr = [8, 8, 8, 4, 3, 3, 10, 9, 9, 3, 3, 3];
const kDrp1 = [287, 267, 256, 178, 155, 147, 205, 215, 217, 70, 68, 65];
const kDrp1Err = [12, 10, 10, 10, 6, 6, 22, 18, 14, 3, 3, 3];
const kRescue = [287, 268, 255, 157, 150, 145, 204, 200, 190, 70, 67, 65];
const kRescueErr = [10, 10, 10, 8, 6, 6, 20, 20, 20, 3, 3, 3];
const kYTicks = [0, 100, 200, 300, 400];
const kXTicks = [0, 20, 40, 60, 80];
const kInjectionTimes = [18.7, 37.3, 61];

/* ---------- Panel l ---------- */
const lGlucose = [1.92, 1.67, 1.72];
const lGlucoseErr = [0.07, 0.04, 0.12];
const lGlucoseDots = [[1.98, 1.87, 1.9], [1.7, 1.66, 1.65], [1.85, 1.62, 1.7]];
const lGalactose = [0.27, 0.44, 0.5];
const lGalactoseErr = [0.09, 0.06, 0.07];
const lGalactoseDots = [[0.33, 0.17, 0.32], [0.49, 0.37, 0.44], [0.56, 0.44, 0.49]];

/* ---------- Panel m ---------- */
const mLevels = [1, 0.61, 1.08, 1, 0.41, 0.79];
const mErr = [0.05, 0.11, 0.08, 0.18, 0.18, 0.18];
const mDots = [[1.05, 0.95, 0.97], [0.74, 0.54, 0.55], [1.17, 1.03, 1.03], [1.2, 0.85, 0.95], [0.6, 0.24, 0.38], [0.98, 0.68, 0.7]];
const mCategories = ['MEF', '143B'];

const NS = 'http://www.w3.org/2000/svg';
const figure = document.getElementById('figure');
const C = { wt: '#e4e4e4', mfn: '#8177b4', ha: '#551a80', drp: '#a04680', res: '#5e0f45',
  lWT: '#999999', lMfn: '#9088c4', lHA: '#5a1e86', lKW: '#9a9a9a', lDrp: '#a85a90', lRes: '#5e0f45',
  p5cs: '#12b5e8', atp: '#ec2d9c', tom: '#9a9a9a', axis: '#2a2a2a' };

function linear(d0, d1, r0, r1) {
  return function (v) { return r0 + (v - d0) * (r1 - r0) / (d1 - d0); };
}
function mk(parent, tag, attrs, name) {
  const el = document.createElementNS(NS, tag);
  for (const k in attrs) el.setAttribute(k, attrs[k]);
  
  
  parent.appendChild(el);
  return el;
}
function label(parent, x, y, str, anchor, size, name) {
  const t = mk(parent, 'text', { x: x, y: y, 'text-anchor': anchor, style: 'font-size:' + size + 'px' }, name);
  t.textContent = str;
  return t;
}
function yAxis(parent, xPos, yScale, ticks, labels, prefix, color) {
  const c = color || C.axis;
  mk(parent, 'line', { x1: xPos, x2: xPos, y1: yScale(ticks[0]) + 0.7, y2: yScale(ticks[ticks.length - 1]) - 0.7, stroke: c, 'stroke-width': 1.5 }, prefix + '-y-axis');
  ticks.forEach(function (v, i) {
    mk(parent, 'line', { x1: xPos - 7, x2: xPos, y1: yScale(v), y2: yScale(v), stroke: c, 'stroke-width': 1.3 }, prefix + '-y-tick');
    label(parent, xPos - 14.5, yScale(v) + 4.6, labels[i], 'end', 13, prefix + '-y-tick-label');
  });
}
function barChart(cfg) {
  const g = mk(figure, 'g', {}, cfg.name);
  const y = linear(cfg.domain[0], cfg.domain[1], cfg.yBottom, cfg.yTop);
  yAxis(g, cfg.axisX, y, cfg.ticks, cfg.tickLabels, cfg.name);
  mk(g, 'line', { x1: cfg.axisX, x2: cfg.axisEnd, y1: cfg.yBottom, y2: cfg.yBottom, stroke: C.axis, 'stroke-width': 1.5 }, cfg.name + '-x-axis');
  const barX = function (i) { return cfg.x0 + i * cfg.step + Math.floor(i / cfg.perGroup) * cfg.groupGap; };
  cfg.values.forEach(function (v, i) {
    const x = barX(i), cx = x + cfg.barW / 2, y0 = y(0), yv = y(v);
    mk(g, 'rect', { x: x, y: Math.min(y0, yv), width: cfg.barW, height: Math.abs(y0 - yv), fill: cfg.colors[i % cfg.colors.length], stroke: '#111', 'stroke-width': 1.6 }, cfg.name + '-bar');
    const hi = y(v + cfg.errs[i]), lo = y(v - cfg.errs[i]);
    mk(g, 'path', { d: 'M' + cx + ' ' + hi + 'V' + lo + 'M' + (cx - 3.5) + ' ' + hi + 'h7M' + (cx - 3.5) + ' ' + lo + 'h7', stroke: '#1c1c1c', 'stroke-width': 1.3, fill: 'none' }, cfg.name + '-error-bar');
    cfg.dots[i].forEach(function (d, j) {
      const off = [0, -3.6, 3.6][j];
      mk(g, 'circle', { cx: cx + off, cy: y(d), r: 2.7, fill: cfg.dotColor }, cfg.name + '-data-point');
    });
  });
  if (cfg.zeroDots) {
    mk(g, 'line', { x1: cfg.axisX, x2: cfg.axisEnd - 6, y1: y(0), y2: y(0), stroke: '#111', 'stroke-width': 1.6, 'stroke-dasharray': '1.6 6.5' }, cfg.name + '-zero-line');
  }
  const n = cfg.values.length;
  if (cfg.tickEachBar) {
    for (let i = 0; i < n; i++) {
      const cx = barX(i) + cfg.barW / 2;
      mk(g, 'line', { x1: cx, x2: cx, y1: cfg.yBottom, y2: cfg.yBottom + 6.5, stroke: C.axis, 'stroke-width': 1.3 }, cfg.name + '-x-tick');
    }
  } else {
    const groups = Math.ceil(n / cfg.perGroup);
    for (let k = 0; k < groups; k++) {
      const first = barX(k * cfg.perGroup), last = barX(k * cfg.perGroup + cfg.perGroup - 1) + cfg.barW;
      const cx = (first + last) / 2;
      mk(g, 'line', { x1: cx, x2: cx, y1: cfg.yBottom, y2: cfg.yBottom + 6.5, stroke: C.axis, 'stroke-width': 1.3 }, cfg.name + '-x-tick');
      if (cfg.categories) label(g, cx, cfg.yBottom + 26, cfg.categories[k], 'middle', 14, cfg.name + '-x-label');
    }
  }
}
function lineSeries(g, name, xs, ys, errs, x, y, color) {
  const pts = xs.map(function (t, i) { return x(t) + ',' + y(ys[i]); }).join(' ');
  mk(g, 'polyline', { points: pts, fill: 'none', stroke: color, 'stroke-width': 1.9, 'stroke-linejoin': 'round' }, name + '-line');
  xs.forEach(function (t, i) {
    const cx = x(t), hi = y(ys[i] + errs[i]), lo = y(ys[i] - errs[i]);
    mk(g, 'path', { d: 'M' + cx + ' ' + hi + 'V' + lo + 'M' + (cx - 3.2) + ' ' + hi + 'h6.4M' + (cx - 3.2) + ' ' + lo + 'h6.4', stroke: color, 'stroke-width': 1.4, fill: 'none' }, name + '-error-bar');
    mk(g, 'circle', { cx: cx, cy: y(ys[i]), r: 2.5, fill: color }, name + '-point');
  });
}
function injections(g, prefix, times, x, yText, yFrom, yTo) {
  times.forEach(function (t, i) {
    label(g, x(t) - (i === 2 ? 1 : 0), yText, injectionLabels[i], 'middle', 12.5, prefix + '-injection-label');
    mk(g, 'line', { x1: x(t), x2: x(t), y1: yFrom, y2: yTo, stroke: '#3c5068', 'stroke-width': 1.8, 'marker-end': 'url(#ah-slate)' }, prefix + '-injection-arrow');
  });
}
function ocrChart(prefix, axisX, yTop, yBottom, xMax, yMax, xPxEnd, yTicks, xTicks) {
  const g = mk(figure, 'g', {}, prefix);
  const x = linear(0, xMax, axisX, xPxEnd), y = linear(0, yMax, yBottom, yTop);
  yAxis(g, axisX, y, yTicks, yTicks.map(String), prefix, '#555');
  mk(g, 'line', { x1: axisX, x2: xPxEnd, y1: yBottom, y2: yBottom, stroke: '#555', 'stroke-width': 1.5 }, prefix + '-x-axis');
  xTicks.forEach(function (v) {
    mk(g, 'line', { x1: x(v), x2: x(v), y1: yBottom, y2: yBottom + 6.5, stroke: '#555', 'stroke-width': 1.3 }, prefix + '-x-tick');
    label(g, x(v), yBottom + 22.5, String(v), 'middle', 13, prefix + '-x-tick-label');
  });
  return { g: g, x: x, y: y };
}
function smoothPath(xs, ys, x, y) {
  const px = xs.map(x), py = ys.map(y);
  let d = 'M' + px[0] + ' ' + py[0];
  for (let i = 0; i < px.length - 1; i++) {
    const a = Math.max(i - 1, 0), b = Math.min(i + 2, px.length - 1);
    const c1x = px[i] + (px[i + 1] - px[a]) / 6, c1y = py[i] + (py[i + 1] - py[a]) / 6;
    const c2x = px[i + 1] - (px[b] - px[i]) / 6, c2y = py[i + 1] - (py[b] - py[i]) / 6;
    d += 'C' + c1x + ' ' + c1y + ' ' + c2x + ' ' + c2y + ' ' + px[i + 1] + ' ' + py[i + 1];
  }
  return d;
}
function profileChart(prefix, axisX, lineStart, lineEnd, x0, x100, yTop, yBottom, series) {
  const g = mk(figure, 'g', {}, prefix);
  const x = linear(0, 100, x0, x100), y = linear(0, 1.5, yBottom, yTop);
  yAxis(g, axisX, y, profileYTicks, profileYLabels, prefix, '#222');
  series.forEach(function (s) {
    mk(g, 'path', { d: smoothPath(s.xs, s.ys, x, y), fill: 'none', stroke: s.color, 'stroke-width': 2.5, 'stroke-linejoin': 'round' }, prefix + '-' + s.name + '-line');
  });
  mk(g, 'line', { x1: lineStart, x2: lineEnd, y1: yBottom, y2: yBottom, stroke: '#111', 'stroke-width': 1 }, prefix + '-x-axis');
}

/* draw d */
const d = ocrChart('chart-d-ocr', 62.3, 281.7, 434, 80, 250, 231, dYTicks, dXTicks);
lineSeries(d.g, 'd-wt', dTimes, dWT, dWTErr, d.x, d.y, C.lWT);
lineSeries(d.g, 'd-mfn', dTimes, dMfn, dMfnErr, d.x, d.y, C.lMfn);
lineSeries(d.g, 'd-rescue', dTimes, dRescue, dRescueErr, d.x, d.y, C.lHA);
injections(d.g, 'd', dInjectionTimes, d.x, 299.5, 307, 323);

/* draw e */
barChart({ name: 'chart-e-glucose', axisX: 302.7, axisEnd: 370, yTop: 281.7, yBottom: 434, domain: [0, 1.5], ticks: [0, 0.5, 1, 1.5], tickLabels: ['0', '0.5', '1.0', '1.5'],
  x0: 310.7, barW: 14, step: 18.7, perGroup: 3, groupGap: 0, values: eGlucose, errs: eGlucoseErr, dots: eGlucoseDots, colors: [C.wt, C.mfn, C.ha], dotColor: '#111', categories: ['Glucose'] });
barChart({ name: 'chart-e-galactose', axisX: 442.7, axisEnd: 509.3, yTop: 282.3, yBottom: 434, domain: [-0.4, 0.4], ticks: [-0.4, -0.2, 0, 0.2, 0.4], tickLabels: ['−0.4', '−0.2', '0', '0.2', '0.4'],
  x0: 450, barW: 14.3, step: 18.8, perGroup: 3, groupGap: 0, values: eGalactose, errs: eGalactoseErr, dots: eGalactoseDots, colors: [C.wt, C.mfn, C.ha], dotColor: '#111', categories: ['Galactose'], zeroDots: true });

/* draw f */
barChart({ name: 'chart-f-nadh', axisX: 597.5, axisEnd: 664.6, yTop: 281.7, yBottom: 434, domain: [0, 2], ticks: [0, 0.5, 1, 1.5, 2], tickLabels: ['0', '0.5', '1.0', '1.5', '2.0'],
  x0: 604.8, barW: 14.2, step: 18.8, perGroup: 3, groupGap: 0, values: fLevels, errs: fErr, dots: fDots, colors: [C.wt, C.mfn, C.ha], dotColor: '#111', tickEachBar: true });

/* draw g */
barChart({ name: 'chart-g-metabolites', axisX: 771.5, axisEnd: 968.9, yTop: 282, yBottom: 434, domain: [0, 1.5], ticks: [0, 0.5, 1, 1.5], tickLabels: ['0', '0.5', '1.0', '1.5'],
  x0: 779.1, barW: 14.7, step: 19.2, perGroup: 3, groupGap: 7, values: gLevels, errs: gErr, dots: gDots, colors: [C.wt, C.mfn, C.ha], dotColor: '#111', categories: gCategories });

/* draw h */
barChart({ name: 'chart-h-metabolites', axisX: 1053.5, axisEnd: 1194.5, yTop: 281.7, yBottom: 434, domain: [0, 2], ticks: [0, 0.5, 1, 1.5, 2], tickLabels: ['0', '0.5', '1.0', '1.5', '2.0'],
  x0: 1061.2, barW: 14.2, step: 19, perGroup: 2, groupGap: 8, values: hLevels, errs: hErr, dots: hDots, colors: [C.wt, C.wt, C.mfn, C.mfn, C.ha, C.ha], dotColor: '#111', tickEachBar: true });

/* draw i, j */
profileChart('chart-i-profile', 424.8, 421, 577.9, 422.9, 576.7, 544.3, 697.3, [
  { name: 'tom20', xs: iDistTOM20, ys: iTOM20, color: C.tom },
  { name: 'atp5b', xs: iDistATP5B, ys: iATP5B, color: C.atp },
  { name: 'p5cs', xs: iDistP5CS, ys: iP5CS, color: C.p5cs }
]);
profileChart('chart-j-profile', 1047, 1043.9, 1197.8, 1045.1, 1181.7, 550.7, 702.3, [
  { name: 'tom20', xs: jDistTOM20, ys: jTOM20, color: C.tom },
  { name: 'atp5b', xs: jDistATP5B, ys: jATP5B, color: C.atp },
  { name: 'p5cs', xs: jDistP5CS, ys: jP5CS, color: C.p5cs }
]);

/* draw k */
const k = ocrChart('chart-k-ocr', 67, 796, 948.7, 80, 400, 236, kYTicks, kXTicks);
lineSeries(k.g, 'k-wt', kTimes, kWT, kWTErr, k.x, k.y, C.lKW);
lineSeries(k.g, 'k-rescue', kTimes, kRescue, kRescueErr, k.x, k.y, C.lRes);
lineSeries(k.g, 'k-drp1', kTimes, kDrp1, kDrp1Err, k.x, k.y, C.lDrp);
injections(k.g, 'k', kInjectionTimes, k.x, 824.5, 832.7, 848.7);

/* draw l */
barChart({ name: 'chart-l-glucose', axisX: 319.6, axisEnd: 389.6, yTop: 796, yBottom: 948.7, domain: [0, 2.5], ticks: [0, 0.5, 1, 1.5, 2, 2.5], tickLabels: ['0', '0.5', '1.0', '1.5', '2.0', '2.5'],
  x0: 327.2, barW: 14, step: 19.15, perGroup: 3, groupGap: 0, values: lGlucose, errs: lGlucoseErr, dots: lGlucoseDots, colors: [C.wt, C.drp, C.res], dotColor: '#8f8f8f', categories: ['Glucose'] });
barChart({ name: 'chart-l-galactose', axisX: 476, axisEnd: 545.3, yTop: 796, yBottom: 948.7, domain: [0, 0.8], ticks: [0, 0.2, 0.4, 0.6, 0.8], tickLabels: ['0', '0.2', '0.4', '0.6', '0.8'],
  x0: 484.5, barW: 14, step: 18.8, perGroup: 3, groupGap: 0, values: lGalactose, errs: lGalactoseErr, dots: lGalactoseDots, colors: [C.wt, C.drp, C.res], dotColor: '#8f8f8f', categories: ['Galactose'] });

/* draw m */
barChart({ name: 'chart-m-levels', axisX: 670.8, axisEnd: 805.9, yTop: 796, yBottom: 948.7, domain: [0, 1.5], ticks: [0, 0.5, 1, 1.5], tickLabels: ['0', '0.5', '1.0', '1.5'],
  x0: 678, barW: 14.4, step: 19.5, perGroup: 3, groupGap: 8.2, values: mLevels, errs: mErr, dots: mDots, colors: [C.wt, C.drp, C.res], dotColor: '#8f8f8f', categories: mCategories });
</script>
</body>
</html>
